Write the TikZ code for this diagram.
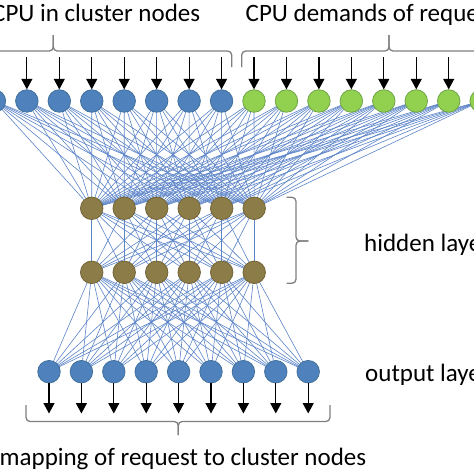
\documentclass[tikz,border=0pt]{standalone}
\usepackage{fontspec}
\setmainfont{Carlito}
\usetikzlibrary{arrows.meta}
\definecolor{nblue}{RGB}{79,129,189}
\definecolor{nblueb}{RGB}{65,113,156}
\definecolor{ngreen}{RGB}{146,208,80}
\definecolor{ngreenb}{RGB}{112,165,70}
\definecolor{nolive}{RGB}{140,124,72}
\definecolor{noliveb}{RGB}{115,100,55}
\definecolor{wire}{RGB}{92,132,200}
\definecolor{brk}{RGB}{128,128,128}
\pgfdeclarelayer{bg}
\pgfsetlayers{bg,main}
\begin{document}
\begin{tikzpicture}[x=1pt,y=-1pt,
 neuron/.style={circle,minimum size=22.5pt,inner sep=0pt,line width=0.8pt},
 inb/.style={neuron,fill=nblue,draw=nblueb},
 ing/.style={neuron,fill=ngreen,draw=ngreenb},
 hid/.style={neuron,fill=nolive,draw=noliveb},
 wireline/.style={draw=wire,line width=0.6pt},
 arr/.style={draw=black,line width=1.2pt,-{Triangle[width=11pt,length=10.5pt]}},
 bracket/.style={draw=brk,line width=1.3pt,rounded corners=4pt},
 lbl/.style={font=\fontsize{25}{30}\selectfont,inner sep=0pt,anchor=base west}]
\useasboundingbox (0,0) rectangle (474,474);
% nodes
\foreach \i in {0,...,7} \node[inb] (I\i) at ({-5.6+32.45*\i},101) {};
\foreach \i in {8,...,15} \node[ing] (I\i) at ({-5.6+32.45*\i},101) {};
\foreach \j in {0,...,5} {
  \node[hid] (H\j) at ({91.7+32.5*\j},208.3) {};
  \node[hid] (G\j) at ({91.7+32.5*\j},272.3) {};
}
\foreach \k in {0,...,8} \node[inb] (O\k) at ({49+32.4*\k},371.7) {};
% wires
\begin{pgfonlayer}{bg}
\foreach \i in {0,...,15} \foreach \j in {0,...,5} \draw[wireline] (I\i.center) -- (H\j.center);
\foreach \i in {0,...,5} \foreach \j in {0,...,5} \draw[wireline] (H\i.center) -- (G\j.center);
\foreach \i in {0,...,5} \foreach \k in {0,...,8} \draw[wireline] (G\i.center) -- (O\k.center);
\end{pgfonlayer}
% arrows
\foreach \i in {0,...,15} {
  \coordinate (T\i) at ({-5.6+32.45*\i},57);
  \draw[arr] (T\i) -- (I\i);
}
\foreach \k in {0,...,8} {
  \coordinate (B\k) at ({49+32.4*\k},413.5);
  \draw[arr] (O\k) -- (B\k);
}
% brackets
\draw[bracket] (-125,67) -- (-125,51) -- (53.3,51) -- (53.3,35);
\draw[bracket] (231.7,67) -- (231.7,51) -- (53.3,51) -- (53.3,35);
\draw[bracket] (241.7,67) -- (241.7,51) -- (389,51) -- (389,35);
\draw[bracket] (536,67) -- (536,51) -- (389,51) -- (389,35);
\draw[bracket] (286.7,197.3) -- (296,197.3) -- (296,241) -- (308.3,241);
\draw[bracket] (286.7,283.3) -- (296,283.3) -- (296,241) -- (308.3,241);
\draw[bracket] (26,405) -- (26,421.5) -- (178.3,421.5) -- (178.3,435);
\draw[bracket] (330,405) -- (330,421.5) -- (178.3,421.5) -- (178.3,435);
% labels
\node[lbl] (t1) at (-8,21) {CPU in cluster nodes};
\node[lbl] (t2) at (245.5,21) {CPU demands of requests};
\node[lbl] (t3) at (364,251.5) {hidden layer};
\node[lbl] (t4) at (365,381.5) {output layer};
\node[lbl] (t5) at (-0.5,465) {mapping of request to cluster nodes};
\end{tikzpicture}
\end{document}
